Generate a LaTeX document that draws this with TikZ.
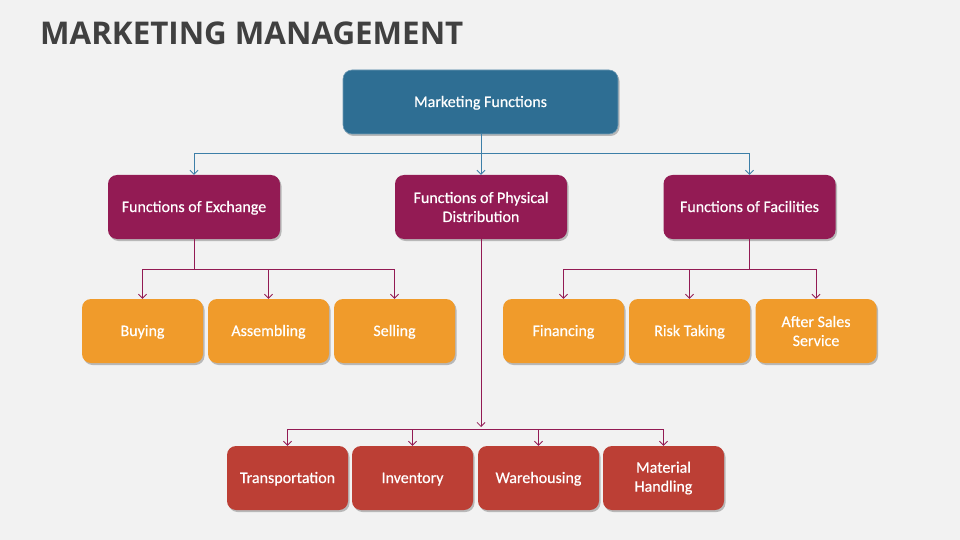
\documentclass[tikz,border=0pt]{standalone}
\usepackage{fontspec}
\setmainfont{Carlito}
\newfontfamily\boxfont[FakeBold=0.5]{Carlito}
\newfontfamily\titlefont{Open Sans}
\usetikzlibrary{arrows.meta,shadows}
\definecolor{bgc}{HTML}{F2F2F2}
\definecolor{topc}{HTML}{2E6E93}
\definecolor{midc}{HTML}{931B54}
\definecolor{orc}{HTML}{F09B2B}
\definecolor{redc}{HTML}{BC3F35}
\definecolor{titlec}{HTML}{404040}
\definecolor{bluel}{HTML}{3D7FA8}
\tikzset{
  box/.style={rounded corners=9pt, minimum height=64pt, inner sep=0pt, align=center,
     text=white, font=\boxfont\fontsize{16}{19}\selectfont, text height=11pt, text depth=1pt,
     drop shadow={opacity=0.35, shadow xshift=1.5pt, shadow yshift=-2pt, fill=black!70}},
  twoline/.style={text height={}, text depth={}},
  topbox/.style={box, fill=topc, draw=topc!70!white, line width=0.6pt, minimum width=275pt},
  midbox/.style={box, fill=midc, minimum width=172pt},
  orbox/.style={box, fill=orc, minimum width=121pt},
  redbox/.style={box, fill=redc, minimum width=121pt},
  bline/.style={draw=bluel, line width=1pt},
  barr/.style={bline, -{Straight Barb[length=4pt,width=8pt,line width=0.8pt]}},
  mline/.style={draw=midc, line width=1pt},
  marr/.style={mline, -{Straight Barb[length=4pt,width=8pt,line width=0.8pt]}},
}
\begin{document}
\begin{tikzpicture}[x=1pt,y=-1pt]
\fill[bgc] (0,0) rectangle (960,540);
\useasboundingbox (0,0) rectangle (960,540);
\node[anchor=base west, text=titlec, inner sep=0pt, font=\titlefont\bfseries\fontsize{31.3}{34}\selectfont] (title) at (40,45) {MARKETING MANAGEMENT};

\node[topbox] (top) at (480.5,102) {Marketing Functions};
\node[midbox] (ex) at (194,207) {Functions of Exchange};
\node[midbox, twoline] (phys) at (481,207) {Functions of Physical\\Distribution};
\node[midbox] (fac) at (749.5,207) {Functions of Facilities};

\node[orbox] (buy) at (142.5,331) {Buying};
\node[orbox] (asm) at (268.5,331) {Assembling};
\node[orbox] (sel) at (394.5,331) {Selling};
\node[orbox] (fin) at (563.5,331) {Financing};
\node[orbox] (risk) at (689.5,331) {Risk Taking};
\node[orbox, twoline] (after) at (816,331) {After Sales\\Service};

\node[redbox] (tra) at (287.5,478) {Transportation};
\node[redbox] (inv) at (412.5,478) {Inventory};
\node[redbox] (war) at (538.5,478) {Warehousing};
\node[redbox, twoline] (mat) at (663.5,478) {Material\\Handling};

% top level
\coordinate (jt) at (481,154);
\draw[barr] (top.south -| phys.north) -- (phys.north);
\draw[barr] (jt) -| (ex.north);
\draw[barr] (jt) -| (fac.north);

% exchange
\coordinate (je) at (194,269);
\draw[mline] (ex.south) -- (je);
\draw[marr] (je) -| (buy.north);
\draw[marr] (je) -| (asm.north);
\draw[marr] (je) -| (sel.north);

% facilities
\coordinate (jf) at (749.5,269);
\draw[mline] (fac.south) -- (jf);
\draw[marr] (jf) -| (fin.north);
\draw[marr] (jf) -| (risk.north);
\draw[marr] (jf) -| (after.north);

% physical distribution
\coordinate (jpa) at (481,427);
\coordinate (jp) at (481,429);
\draw[marr] (phys.south) -- (jpa);
\draw[marr] (jp) -| (tra.north);
\draw[marr] (jp) -| (inv.north);
\draw[marr] (jp) -| (war.north);
\draw[marr] (jp) -| (mat.north);
\end{tikzpicture}
\end{document}
